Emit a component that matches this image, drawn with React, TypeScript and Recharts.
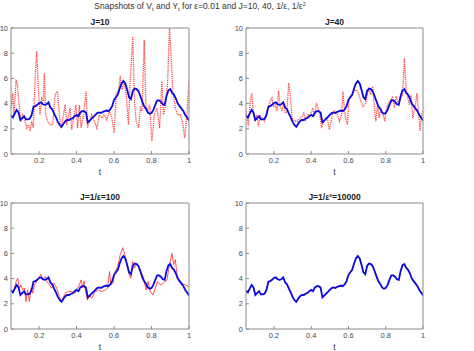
import React from "react";
import { Line, LineChart, XAxis, YAxis } from "recharts";

// t grid of the blue path V_t (shared by all panels)
const T_V = [
  0.05, 0.06, 0.07, 0.08, 0.09, 0.1, 0.11, 0.12, 0.13, 0.14,
  0.15, 0.16, 0.17, 0.18, 0.19, 0.2, 0.21, 0.22, 0.23, 0.24,
  0.25, 0.26, 0.27, 0.28, 0.29, 0.3, 0.31, 0.32, 0.33, 0.34,
  0.35, 0.36, 0.37, 0.38, 0.39, 0.4, 0.41, 0.42, 0.43, 0.44,
  0.45, 0.46, 0.47, 0.48, 0.49, 0.5, 0.51, 0.52, 0.53, 0.54,
  0.55, 0.56, 0.57, 0.58, 0.59, 0.6, 0.61, 0.62, 0.63, 0.64,
  0.65, 0.66, 0.67, 0.68, 0.69, 0.7, 0.71, 0.72, 0.73, 0.74,
  0.75, 0.76, 0.77, 0.78, 0.79, 0.8, 0.81, 0.82, 0.83, 0.84,
  0.85, 0.86, 0.87, 0.88, 0.89, 0.9, 0.91, 0.92, 0.93, 0.94,
  0.95, 0.96, 0.97, 0.98, 0.99, 1.0
];

const V_BLUE = [
  3.05, 2.9, 3.2, 3.5, 3.3, 2.7, 2.85, 3.0, 2.75, 2.75,
  2.8, 3.1, 3.75, 3.8, 3.9, 4.05, 4.1, 3.95, 3.9, 3.95,
  4.1, 3.7, 3.55, 3.2, 2.9, 2.55, 2.3, 2.15, 2.4, 2.6,
  2.7, 2.7, 2.8, 2.85, 3.0, 3.1, 3.0, 3.3, 3.4, 3.4,
  3.3, 2.5, 2.65, 2.8, 2.95, 3.1, 3.25, 3.3, 3.25, 3.35,
  3.4, 3.45, 3.4, 3.55, 3.8, 4.3, 4.5, 4.7, 5.2, 5.6,
  5.8, 5.6, 5.1, 4.5, 4.35, 5.0, 5.2, 5.15, 5.0, 4.6,
  4.2, 3.8, 3.6, 3.3, 3.2, 3.25, 3.5, 3.9, 4.25, 4.25,
  4.15, 3.95, 3.9, 4.6, 5.05, 5.15, 4.85, 4.7, 4.4, 4.0,
  3.8, 3.6, 3.4, 3.1, 2.9, 2.65
];

// Y_t for J = 1/eps^2 = 10000 (same grid as V_t)
const Y_J10000 = [
  3.1, 2.95, 3.25, 3.45, 3.35, 2.8, 2.9, 2.95, 2.8, 2.75,
  2.85, 3.15, 3.7, 3.85, 3.95, 4.1, 4.05, 4.0, 3.85, 4.0,
  4.05, 3.75, 3.5, 3.25, 2.85, 2.6, 2.3, 2.2, 2.45, 2.6,
  2.75, 2.7, 2.85, 2.9, 2.95, 3.15, 3.05, 3.25, 3.4, 3.35,
  3.35, 2.6, 2.7, 2.85, 2.9, 3.15, 3.2, 3.3, 3.3, 3.35,
  3.45, 3.4, 3.45, 3.5, 3.85, 4.25, 4.55, 4.75, 5.15, 5.65,
  5.8, 5.65, 5.05, 4.55, 4.4, 4.95, 5.2, 5.2, 4.95, 4.65,
  4.15, 3.85, 3.55, 3.35, 3.2, 3.3, 3.45, 3.95, 4.2, 4.3,
  4.1, 4.0, 3.85, 4.55, 5.1, 5.15, 4.9, 4.65, 4.45, 4.05,
  3.75, 3.65, 3.35, 3.15, 2.85, 2.7
];

// Y_t for J = 10
const T_J10 = [
  0.05, 0.059, 0.066, 0.077, 0.084, 0.095, 0.102, 0.112, 0.125, 0.134,
  0.143, 0.152, 0.16, 0.169, 0.178, 0.187, 0.196, 0.205, 0.214, 0.223,
  0.228, 0.235, 0.246, 0.258, 0.273, 0.285, 0.298, 0.308, 0.317, 0.33,
  0.339, 0.348, 0.365, 0.374, 0.387, 0.397, 0.405, 0.415, 0.424, 0.437,
  0.451, 0.458, 0.469, 0.481, 0.494, 0.508, 0.522, 0.535, 0.547, 0.561,
  0.576, 0.588, 0.601, 0.611, 0.624, 0.633, 0.642, 0.654, 0.665, 0.677,
  0.686, 0.7, 0.709, 0.718, 0.731, 0.74, 0.749, 0.761, 0.77, 0.779,
  0.79, 0.802, 0.815, 0.829, 0.843, 0.855, 0.864, 0.873, 0.886, 0.896,
  0.905, 0.914, 0.927, 0.939, 0.953, 0.968, 0.977, 0.989, 1.0
];
const Y_J10 = [
  3.65, 4.84, 3.1, 5.9, 5.5, 3.65, 2.6, 3.1, 2.6, 2.06,
  2.33, 1.8, 2.6, 2.06, 5.77, 8.15, 5.24, 3.12, 4.44, 4.2,
  6.43, 3.12, 2.6, 2.33, 2.33, 4.7, 4.97, 3.12, 2.06, 3.12,
  3.9, 2.33, 3.65, 1.93, 3.12, 3.9, 2.06, 3.9, 2.06, 3.12,
  4.97, 2.06, 2.6, 3.12, 2.6, 2.06, 3.12, 2.86, 3.12, 2.72,
  3.4, 2.86, 1.67, 4.84, 4.97, 6.2, 5.1, 5.77, 4.7, 2.33,
  5.77, 9.34, 4.2, 2.6, 2.06, 3.65, 3.4, 9.07, 3.9, 3.4,
  3.9, 1.0, 3.12, 3.65, 2.06, 5.77, 3.12, 3.65, 5.77, 10.0,
  7.6, 4.97, 3.65, 3.12, 3.12, 2.33, 1.27, 3.12, 5.77
];

// Y_t for J = 40
const T_J40 = [
  0.05, 0.063, 0.072, 0.081, 0.09, 0.099, 0.108, 0.117, 0.126, 0.135,
  0.149, 0.162, 0.171, 0.18, 0.189, 0.198, 0.207, 0.216, 0.225, 0.234,
  0.243, 0.252, 0.261, 0.27, 0.279, 0.288, 0.297, 0.311, 0.324, 0.342,
  0.351, 0.36, 0.369, 0.383, 0.396, 0.408, 0.417, 0.428, 0.437, 0.446,
  0.455, 0.468, 0.486, 0.498, 0.513, 0.525, 0.54, 0.552, 0.563, 0.57,
  0.581, 0.594, 0.603, 0.617, 0.63, 0.642, 0.657, 0.666, 0.678, 0.693,
  0.702, 0.711, 0.72, 0.729, 0.738, 0.747, 0.756, 0.765, 0.774, 0.783,
  0.795, 0.804, 0.815, 0.828, 0.837, 0.846, 0.855, 0.867, 0.882, 0.891,
  0.9, 0.909, 0.918, 0.927, 0.936, 0.945, 0.959, 0.968, 0.977, 0.984,
  0.991, 1.0
];
const Y_J40 = [
  3.4, 2.2, 4.2, 4.84, 3.1, 2.6, 3.1, 2.2, 3.1, 2.86,
  2.6, 3.4, 3.78, 4.2, 4.44, 3.78, 3.9, 3.4, 5.0, 3.78,
  3.4, 4.05, 3.25, 3.4, 5.63, 4.7, 2.86, 2.6, 2.6, 2.86,
  2.98, 3.25, 2.72, 3.12, 3.12, 3.65, 2.98, 4.05, 3.65, 3.12,
  2.06, 2.6, 2.86, 1.93, 3.12, 3.4, 3.12, 2.6, 3.12, 4.97,
  3.12, 2.33, 4.44, 4.7, 4.97, 5.1, 4.7, 4.2, 3.78, 4.05,
  4.84, 5.1, 4.7, 5.37, 3.9, 2.6, 3.9, 2.86, 3.65, 3.25,
  2.6, 3.65, 4.05, 4.31, 4.58, 3.65, 4.58, 4.05, 4.44, 4.7,
  7.6, 5.24, 4.44, 3.9, 4.7, 2.86, 3.9, 4.84, 3.12, 1.8,
  3.12, 3.4
];

// Y_t for J = 1/eps = 100
const T_J100 = [
  0.05, 0.059, 0.068, 0.077, 0.086, 0.095, 0.103, 0.112, 0.121, 0.13,
  0.139, 0.148, 0.157, 0.166, 0.175, 0.187, 0.201, 0.21, 0.219, 0.232,
  0.241, 0.255, 0.267, 0.28, 0.294, 0.308, 0.321, 0.339, 0.357, 0.374,
  0.392, 0.405, 0.415, 0.424, 0.433, 0.44, 0.447, 0.458, 0.469, 0.481,
  0.499, 0.517, 0.535, 0.553, 0.565, 0.576, 0.583, 0.594, 0.606, 0.619,
  0.633, 0.647, 0.658, 0.668, 0.681, 0.69, 0.699, 0.709, 0.722, 0.736,
  0.749, 0.761, 0.772, 0.782, 0.793, 0.807, 0.82, 0.832, 0.847, 0.864,
  0.882, 0.896, 0.909, 0.918, 0.927, 0.936, 0.948, 0.962, 0.98, 1.0
];
const Y_J100 = [
  3.1, 2.97, 3.24, 3.77, 4.03, 3.24, 3.5, 3.1, 3.24, 2.18,
  3.1, 2.18, 3.24, 2.84, 3.5, 3.77, 4.16, 4.35, 3.9, 4.16,
  3.77, 3.5, 3.24, 3.63, 3.24, 2.57, 2.23, 2.84, 2.97, 2.97,
  2.84, 3.24, 3.5, 3.9, 3.24, 3.82, 3.1, 2.3, 2.7, 2.44,
  2.97, 3.1, 2.97, 3.1, 3.24, 4.56, 3.5, 3.63, 4.56, 4.96,
  5.9, 6.45, 5.9, 5.1, 4.3, 4.03, 5.36, 4.83, 5.23, 4.7,
  4.03, 3.77, 3.1, 3.77, 2.97, 2.7, 3.24, 3.77, 3.5, 3.63,
  3.9, 5.1, 6.0, 5.1, 5.5, 4.3, 3.77, 3.63, 3.5, 3.37
];

const X_TICKS = [0.2, 0.4, 0.6, 0.8, 1];
const Y_TICKS = [0, 2, 4, 6, 8, 10];

const FONT = "'Liberation Sans', Arial, sans-serif";
const AXIS_GRAY = "#8a8a8a";
const TICK_STYLE = { fontSize: 7.5, fill: "#4a4a4a", fontFamily: FONT };

const toPoints = (ts: number[], vs: number[]) => ts.map((t, i) => ({ t, v: vs[i] }));

const bluePoints = toPoints(T_V, V_BLUE);

type Box = { x: number; y: number; w: number; h: number };

function Panel({
  box,
  title,
  red,
  dotted
}: {
  box: Box;
  title: string;
  red: { t: number; v: number }[];
  dotted: boolean;
}) {
  const ML = 26;
  const MT = 16;
  const MR = 6;
  const MB = 22;
  return (
    <>
      <div style={{ position: "absolute", left: box.x - ML, top: box.y - MT }}>
        <LineChart
          width={ML + box.w + MR}
          height={MT + box.h + MB}
          margin={{ top: MT - 1, right: MR - 1, bottom: 0, left: 0 }}
        >
          <XAxis
            xAxisId="b"
            dataKey="t"
            type="number"
            domain={[0.05, 1]}
            allowDataOverflow
            ticks={X_TICKS}
            interval={0}
            height={MB}
            tickSize={-3}
            tickMargin={7}
            stroke={AXIS_GRAY}
            tick={TICK_STYLE}
            label={{
              value: "t",
              position: "insideBottom",
              offset: 1,
              style: { fontSize: 8.5, fill: "#333", fontFamily: FONT }
            }}
          />
          {/* box top edge with inward ticks */}
          <XAxis
            xAxisId="top"
            orientation="top"
            dataKey="t"
            type="number"
            domain={[0.05, 1]}
            allowDataOverflow
            ticks={X_TICKS}
            interval={0}
            height={1}
            tickSize={-3}
            tick={false}
            stroke={AXIS_GRAY}
          />
          <YAxis
            yAxisId="l"
            type="number"
            domain={[0, 10]}
            allowDataOverflow
            ticks={Y_TICKS}
            interval={0}
            width={ML}
            tickSize={-3}
            tickMargin={6}
            stroke={AXIS_GRAY}
            tick={TICK_STYLE}
          />
          {/* box right edge with inward ticks */}
          <YAxis
            yAxisId="r"
            orientation="right"
            type="number"
            domain={[0, 10]}
            allowDataOverflow
            ticks={Y_TICKS}
            interval={0}
            width={1}
            tickSize={-3}
            tick={false}
            stroke={AXIS_GRAY}
          />
          <Line
            xAxisId="b"
            yAxisId="l"
            data={red}
            dataKey="v"
            type="linear"
            stroke="#ff2a2a"
            strokeWidth={dotted ? 1.3 : 1}
            strokeDasharray={dotted ? "1.2 0.9" : undefined}
            strokeOpacity={dotted ? 0.85 : 0.8}
            dot={false}
            isAnimationActive={false}
          />
          <Line
            xAxisId="b"
            yAxisId="l"
            data={bluePoints}
            dataKey="v"
            type="linear"
            stroke="#0a0ae0"
            strokeWidth={1.8}
            dot={false}
            isAnimationActive={false}
          />
        </LineChart>
      </div>
      <svg
        width={box.w}
        height={14}
        style={{ position: "absolute", left: box.x, top: box.y - 14 }}
      >
        <text
          x={box.w / 2}
          y={11}
          textAnchor="middle"
          fontSize={8.5}
          fontWeight="bold"
          fill="#222"
          fontFamily={FONT}
        >
          {title}
        </text>
      </svg>
    </>
  );
}

export default function App() {
  return (
    <div
      style={{
        position: "absolute",
        left: 0,
        top: 0,
        width: 474,
        height: 351,
        overflow: "hidden",
        background: "#fff",
        fontFamily: FONT
      }}
    >
      <svg width={474} height={16} style={{ position: "absolute", left: 0, top: 0 }}>
        <text x={200} y={8.5} textAnchor="middle" fontSize={8.5} fill="#333" fontFamily={FONT}>
          Snapshots of V<tspan dy={2.5} fontSize={6}>t</tspan>
          <tspan dy={-2.5}> and Y</tspan>
          <tspan dy={2.5} fontSize={6}>t</tspan>
          <tspan dy={-2.5}> for  ε=0.01 and J=10, 40, 1/ε, 1/ε</tspan>
          <tspan dy={-2.5} fontSize={5.5}>2</tspan>
        </text>
      </svg>
      <Panel box={{ x: 11, y: 28, w: 178, h: 126 }} title="J=10" red={toPoints(T_J10, Y_J10)} dotted />
      <Panel box={{ x: 246, y: 28, w: 177, h: 126 }} title="J=40" red={toPoints(T_J40, Y_J40)} dotted />
      <Panel
        box={{ x: 11, y: 203, w: 178, h: 126 }}
        title="J=1/ε=100"
        red={toPoints(T_J100, Y_J100)}
        dotted={false}
      />
      <Panel
        box={{ x: 246, y: 203, w: 177, h: 126 }}
        title="J=1/ε²=10000"
        red={toPoints(T_V, Y_J10000)}
        dotted={false}
      />
    </div>
  );
}
